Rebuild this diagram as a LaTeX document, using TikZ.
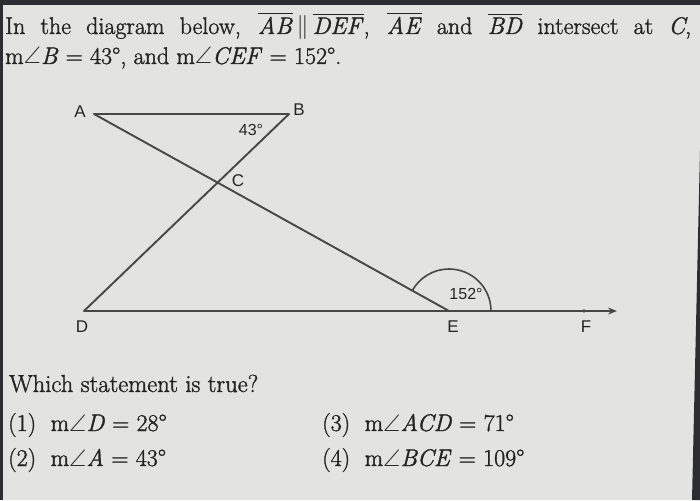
\RequirePackage{fix-cm}
\documentclass[tikz,border=0pt]{standalone}
\usepackage{amssymb}
\usepackage{fontspec}
\setmainfont{Latin Modern Roman}[FakeBold=1.4]
\newfontfamily\labelfont{Liberation Sans}
\usetikzlibrary{arrows.meta}
\definecolor{bgc}{HTML}{E3E4E2}
\definecolor{inkc}{HTML}{242424}
\definecolor{linec}{HTML}{474747}
\definecolor{framec}{HTML}{2C2C33}
\newcommand\mang{m\hbox{$\angle$}}
\newcommand\ovl[1]{$\overline{\hbox{\textit{#1}}}$}
\tikzset{
  seg/.style={draw=linec, line width=1.9pt, line cap=round},
  ptlabel/.style={text=inkc, font=\labelfont\fontsize{17}{17}\selectfont, inner sep=0pt},
  anglabel/.style={text=inkc, font=\labelfont\fontsize{16}{16}\selectfont, inner sep=0pt},
  txt/.style={text=inkc, font=\rmfamily\fontsize{24}{28}\selectfont, inner sep=0pt, anchor=base west},
  qtxt/.style={txt, font=\rmfamily\fontsize{24.6}{28}\selectfont}
}
\begin{document}
\begin{tikzpicture}[x=1pt,y=1pt]
\useasboundingbox (0,0) rectangle (700,500);
\fill[bgc] (0,0) rectangle (700,500);
\fill[framec] (0,495) rectangle (700,500);
\fill[framec] (0,0) rectangle (3,500);
\fill[framec] (692,0) -- (700,0) -- (700,350) -- cycle;
% text
\node[txt] (t1) at (5,466) {\makebox[686pt][s]{In the diagram below, \mbox{\ovl{AB}\,$\|$\,\ovl{DEF}}, \ovl{AE} and \ovl{BD} intersect at \textit{C},}};
\node[txt] (t2) at (5,436) {\mang\textit{B} = 43°, and \mang\textit{CEF} = 152°.};
\node[qtxt] (q) at (9,108) {Which statement is true?};
\node[txt] (o1) at (8,69) {(1)\ \ \mang\textit{D} = 28°};
\node[txt] (o2) at (8,34) {(2)\ \ \mang\textit{A} = 43°};
\node[txt] (o3) at (322,69) {(3)\ \ \mang\textit{ACD} = 71°};
\node[txt] (o4) at (322,34) {(4)\ \ \mang\textit{BCE} = 109°};
% geometry
\coordinate (A) at (94,386);
\coordinate (B) at (289,386);
\coordinate (D) at (84,189);
\coordinate (E) at (449,189);
\coordinate (F) at (584,189);
\coordinate (Fend) at (617,189);
\coordinate (C) at (intersection of A--E and D--B);
\draw[seg] (A) -- (B);
\draw[seg] (A) -- (E);
\draw[seg] (D) -- (B);
\draw[seg, -{Stealth[length=9pt,width=7pt]}] (D) -- (Fend);
\fill[linec] (F) circle (1.8pt);
\draw[draw=linec, line width=1.6pt] ([xshift=42pt]E) arc[start angle=0, end angle=151, radius=42pt];
% labels
\node[ptlabel] (lA) at (80,388) {A};
\node[ptlabel] (lB) at (299,390) {B};
\node[ptlabel] (lC) at (238,319) {C};
\node[ptlabel] (lD) at (82,173) {D};
\node[ptlabel] (lE) at (453,173) {E};
\node[ptlabel] (lF) at (586,173) {F};
\node[anglabel] (a43) at (251,370) {43°};
\node[anglabel] (a152) at (466,206) {152°};
\end{tikzpicture}
\end{document}
